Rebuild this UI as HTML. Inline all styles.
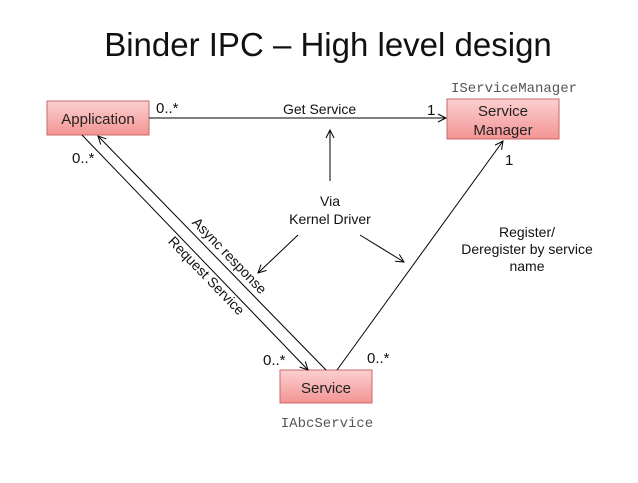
<!DOCTYPE html>
<html><head><style>
body{margin:0;background:#fff;width:638px;height:478px;overflow:hidden;font-family:"Liberation Sans",sans-serif}
</style></head><body>
<svg width="638" height="478" xmlns="http://www.w3.org/2000/svg" font-family="Liberation Sans, sans-serif">
<defs>
<linearGradient id="g" x1="0" y1="0" x2="0" y2="1"><stop offset="0" stop-color="#fbd0d0"/><stop offset="1" stop-color="#f49494"/></linearGradient>
<marker id="a" markerWidth="10" markerHeight="10" refX="9" refY="5" orient="auto" markerUnits="userSpaceOnUse"><path d="M1,1 L9,5 L1,9" fill="none" stroke="#000" stroke-width="1"/></marker>
</defs>
<text x="328" y="56" font-size="33" text-anchor="middle" fill="#111">Binder IPC – High level design</text>
<text x="514" y="92" font-size="14" font-family="Liberation Mono, monospace" text-anchor="middle" fill="#555">IServiceManager</text>
<text x="327" y="427" font-size="14" font-family="Liberation Mono, monospace" text-anchor="middle" fill="#555">IAbcService</text>
<g stroke="#c96a6a" stroke-width="1" fill="url(#g)">
<rect x="47" y="101" width="102" height="34"/>
<rect x="447" y="99" width="112" height="40"/>
<rect x="280" y="370" width="92" height="33"/>
</g>
<g font-size="15" text-anchor="middle" fill="#222">
<text x="98" y="124">Application</text>
<text x="503" y="116">Service</text>
<text x="503" y="135">Manager</text>
<text x="326" y="393">Service</text>
</g>
<g stroke="#000" stroke-width="1" fill="none">
<line x1="149" y1="118" x2="446" y2="118" marker-end="url(#a)"/>
<line x1="82" y1="135" x2="308" y2="370" marker-end="url(#a)"/>
<line x1="326" y1="370" x2="98" y2="136" marker-end="url(#a)"/>
<line x1="337" y1="370" x2="503" y2="141" marker-end="url(#a)"/>
<line x1="330" y1="181" x2="330" y2="130" marker-end="url(#a)"/>
<line x1="298" y1="235" x2="258" y2="273" marker-end="url(#a)"/>
<line x1="360" y1="235" x2="404" y2="262" marker-end="url(#a)"/>
</g>
<g font-size="14" fill="#111">
<text x="156" y="113" font-size="15">0..*</text>
<text x="72" y="163" font-size="15">0..*</text>
<text x="283" y="114">Get Service</text>
<text x="427" y="115" font-size="15">1</text>
<text x="505" y="165" font-size="15">1</text>
<text x="330" y="206" text-anchor="middle">Via</text>
<text x="330" y="224" text-anchor="middle">Kernel Driver</text>
<text x="527" y="237" text-anchor="middle">Register/</text>
<text x="527" y="254" text-anchor="middle">Deregister by service</text>
<text x="527" y="271" text-anchor="middle">name</text>
<text x="263" y="365" font-size="15">0..*</text>
<text x="367" y="363" font-size="15">0..*</text>
<text transform="translate(226,259) rotate(46)" text-anchor="middle">Async response</text>
<text transform="translate(203,279) rotate(46)" text-anchor="middle">Request Service</text>
</g>
</svg>
</body></html>
